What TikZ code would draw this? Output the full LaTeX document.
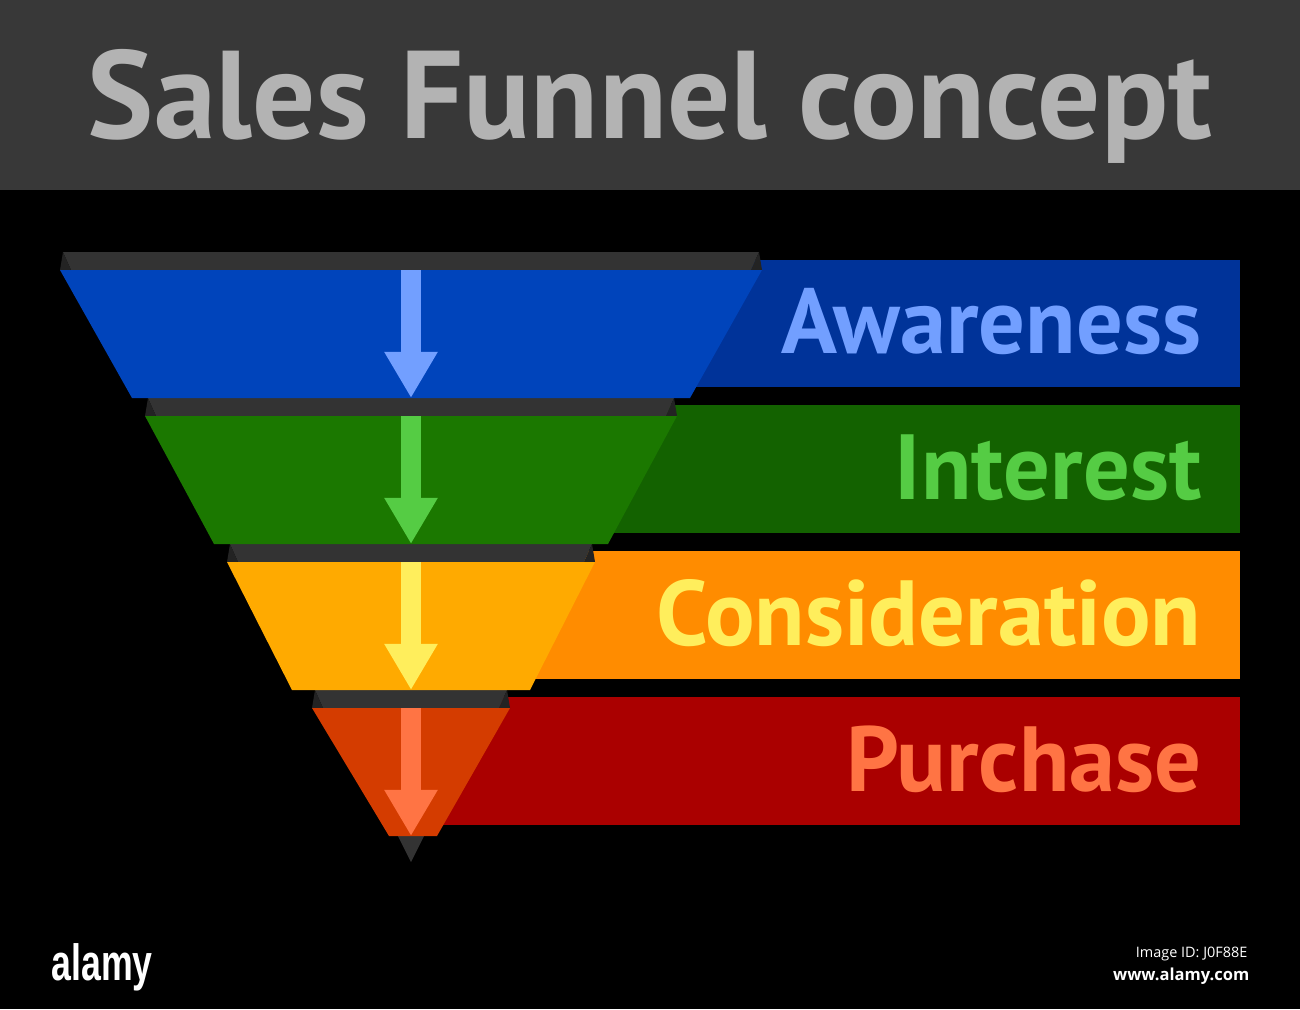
\documentclass[tikz,border=0pt]{standalone}
\usepackage{fontspec}
\setmainfont{PT Sans}
\newfontfamily\webfont{Open Sans}
\newfontfamily\logofont{Liberation Sans}
\usepackage{xcolor}
\usepackage{tikz}
\usetikzlibrary{positioning,arrows.meta}

\definecolor{barback}{HTML}{383838}
\definecolor{titlegray}{HTML}{B3B3B3}
\definecolor{rimgray}{HTML}{333333}
\definecolor{rimdark}{HTML}{232323}
\definecolor{awareT}{HTML}{0044BB}
\definecolor{awareR}{HTML}{003399}
\definecolor{awareA}{HTML}{729FFF}
\definecolor{interT}{HTML}{1B7800}
\definecolor{interR}{HTML}{136200}
\definecolor{interA}{HTML}{55CC44}
\definecolor{considT}{HTML}{FFAA00}
\definecolor{considR}{HTML}{FF8C00}
\definecolor{considA}{HTML}{FFEE5C}
\definecolor{purchT}{HTML}{D43C00}
\definecolor{purchR}{HTML}{AA0000}
\definecolor{purchA}{HTML}{FF7444}

\begin{document}
\begin{tikzpicture}[x=0.01cm,y=-0.01cm,
	rim/.style={fill=rimgray},
	rimend/.style={fill=rimdark},
	flow/.style={line width=0.2cm,-{Triangle[width=0.5cm,length=0.46cm]}},
	stage/.style={anchor=base east,inner sep=0,font=\fontsize{26.3}{30}\selectfont\bfseries}]
		\fill[black] (0,0) rectangle (1300,1009);
		\fill[barback] (0,0) rectangle (1300,190);
		\node[anchor=base,inner sep=0,text=titlegray,font=\fontsize{35.5}{40}\selectfont\bfseries] (title) at (650,138) {Sales Funnel concept};
		
		% bands on the right
		\fill[awareR] (411,260) rectangle (1240,387);
		\fill[interR] (411,405) rectangle (1240,533);
		\fill[considR] (411,551) rectangle (1240,679);
		\fill[purchR] (411,697) rectangle (1240,825);
		
		% funnel rims
		\fill[rim] (63,252)--(759,252)--(751,270)--(71,270)--cycle;
		\fill[rimend] (63,252)--(71,270)--(60,270)--cycle;
		\fill[rimend] (759,252)--(751,270)--(762,270)--cycle;
		\fill[rim] (148,398)--(674,398)--(666,416)--(156,416)--cycle;
		\fill[rimend] (148,398)--(156,416)--(145,416)--cycle;
		\fill[rimend] (674,398)--(666,416)--(677,416)--cycle;
		\fill[rim] (230,544)--(592,544)--(584,562)--(238,562)--cycle;
		\fill[rimend] (230,544)--(238,562)--(227,562)--cycle;
		\fill[rimend] (592,544)--(584,562)--(595,562)--cycle;
		\fill[rim] (315,690)--(507,690)--(499,708)--(323,708)--cycle;
		\fill[rimend] (315,690)--(323,708)--(312,708)--cycle;
		\fill[rimend] (507,690)--(499,708)--(510,708)--cycle;
		\fill[rim] (398,836)--(424,836)--(411,862)--cycle;
		
		% funnel stages
		\fill[awareT] (60,270)--(762,270)--(690,398)--(132,398)--cycle;
		\fill[interT] (145,416)--(677,416)--(608,544)--(214,544)--cycle;
		\fill[considT] (227,562)--(595,562)--(530,690)--(292,690)--cycle;
		\fill[purchT] (312,708)--(510,708)--(437,836)--(389,836)--cycle;
		
		\coordinate (aw-in) at (411,270);
		\coordinate (aw-out) at (411,398);
		\coordinate (in-in) at (411,416);
		\coordinate (in-out) at (411,544);
		\coordinate (co-in) at (411,562);
		\coordinate (co-out) at (411,690);
		\coordinate (pu-in) at (411,708);
		\coordinate (pu-out) at (411,836);
		\draw[flow,awareA] (aw-in)--(aw-out);
		\draw[flow,interA] (in-in)--(in-out);
		\draw[flow,considA] (co-in)--(co-out);
		\draw[flow,purchA] (pu-in)--(pu-out);
		
		\node[stage,text=awareA] (aware) at (1202,353) {Awareness};
		\node[stage,text=interA] (inter) at (1202,499) {Interest};
		\node[stage,text=considA] (consid) at (1202,645) {Consideration};
		\node[stage,text=purchA] (purch) at (1202,791) {Purchase};
		
		% footer
		\node[anchor=base west,text=white,inner sep=0,xscale=0.7,font=\logofont\fontsize{14.5}{16}\selectfont\bfseries] (logo) at (51,980) {alamy};
		\node[anchor=base east,text=white,inner sep=0,font=\webfont\fontsize{4.1}{5}\selectfont] (imgid) at (1248,957) {Image ID: J0F88E};
		\node[anchor=base east,text=white,inner sep=0,font=\webfont\fontsize{4.7}{6}\selectfont\bfseries] (web) at (1250,980) {www.alamy.com};
	\end{tikzpicture}
\end{document}
